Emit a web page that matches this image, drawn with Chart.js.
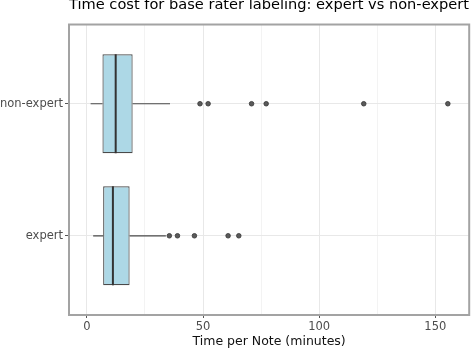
<!DOCTYPE html>
<html>
<head>
<meta charset="utf-8">
<script src="https://cdn.jsdelivr.net/npm/chart.js@4"></script>
<style>
  html, body { margin: 0; padding: 0; background: #fff; }
</style>
</head>
<body>
<canvas id="boxChart" width="474" height="351"></canvas>
<script>
// === data ===
const groupNames = ['expert', 'non-expert'];
const groupPos = [1, 2];
const q1 = [7.0, 6.7];
const median = [11.2, 12.4];
const q3 = [18.4, 19.7];
const whiskerLow = [2.7, 1.6];
const whiskerHigh = [34.0, 35.8];
const outliersExpert = [35.5, 39.0, 46.3, 60.8, 65.4];
const outliersNonExpert = [48.7, 52.2, 70.9, 77.2, 119.2, 155.4];
const xTickValues = [0, 25, 50, 75, 100, 125, 150];

const FONT = 'DejaVu Sans';

// whiskers under the boxes, median + panel border on top
const boxExtras = {
    id: 'boxExtras',
    beforeDatasetsDraw(chart) {
        const ctx = chart.ctx;
        const x = chart.scales.x, y = chart.scales.y;
        ctx.save();
        ctx.strokeStyle = '#4a4a4a';
        ctx.lineWidth = 1.2;
        groupPos.forEach((pos, i) => {
            const py = y.getPixelForValue(pos);
            ctx.beginPath();
            ctx.moveTo(x.getPixelForValue(whiskerLow[i]), py);
            ctx.lineTo(x.getPixelForValue(q1[i]), py);
            ctx.moveTo(x.getPixelForValue(q3[i]), py);
            ctx.lineTo(x.getPixelForValue(whiskerHigh[i]), py);
            ctx.stroke();
        });
        ctx.restore();
    },
    afterDatasetsDraw(chart) {
        const ctx = chart.ctx;
        const x = chart.scales.x;
        const meta = chart.getDatasetMeta(0);
        ctx.save();
        ctx.strokeStyle = '#333333';
        ctx.lineWidth = 2;
        meta.data.forEach((bar, i) => {
            const px = x.getPixelForValue(median[i]);
            ctx.beginPath();
            ctx.moveTo(px, bar.y - bar.height / 2);
            ctx.lineTo(px, bar.y + bar.height / 2);
            ctx.stroke();
        });
        const a = chart.chartArea;
        ctx.strokeStyle = '#a3a3a3';
        ctx.lineWidth = 2;
        ctx.strokeRect(a.left, a.top, a.right - a.left, a.bottom - a.top);
        ctx.restore();
    }
};

const outlierPoints = []
    .concat(outliersExpert.map(v => ({ x: v, y: groupPos[0] })))
    .concat(outliersNonExpert.map(v => ({ x: v, y: groupPos[1] })));

new Chart(document.getElementById('boxChart'), {
    type: 'bar',
    data: {
        datasets: [{
            type: 'bar',
            data: groupPos.map((pos, i) => ({ y: pos, x: [q1[i], q3[i]] })),
            backgroundColor: '#add8e6',
            borderColor: '#4a4a4a',
            borderWidth: 1.2,
            borderSkipped: false,
            categoryPercentage: 1,
            barPercentage: 0.75,
            order: 2
        }, {
            type: 'scatter',
            data: outlierPoints,
            pointRadius: 2.3,
            pointBackgroundColor: '#5a5a5a',
            pointBorderColor: '#333333',
            pointBorderWidth: 0.8,
            order: 1
        }]
    },
    options: {
        indexAxis: 'y',
        responsive: false,
        animation: false,
        events: [],
        layout: { padding: { left: 0, right: 2, top: 0, bottom: 0 } },
        plugins: {
            legend: { display: false },
            tooltip: { enabled: false },
            title: {
                display: true,
                text: 'Time cost for base rater labeling: expert vs non-expert',
                align: 'start',
                fullSize: false,
                color: '#000000',
                font: { family: FONT, size: 14.6, weight: 'normal', lineHeight: 0.7 },
                padding: { top: 0, bottom: 14.3 }
            }
        },
        scales: {
            x: {
                type: 'linear',
                offset: false,
                beginAtZero: false,
                min: -7.7,
                max: 164.6,
                afterBuildTicks: scale => {
                    scale.ticks = xTickValues.map(v => ({ value: v }));
                },
                afterFit: scale => { scale.height = 36; },
                ticks: {
                    color: '#4d4d4d',
                    font: { family: FONT, size: 11.5 },
                    padding: 2,
                    maxRotation: 0,
                    callback: value => (value % 50 === 0 ? value : '')
                },
                grid: {
                    offset: false,
                    color: ctx => (ctx.tick && ctx.tick.value % 50 === 0 ? '#e8e8e8' : '#f3f3f3'),
                    tickColor: ctx => (ctx.tick && ctx.tick.value % 50 === 0 ? '#555555' : 'rgba(0,0,0,0)'),
                    tickLength: 3
                },
                border: { display: false },
                title: {
                    display: true,
                    text: 'Time per Note (minutes)',
                    color: '#111111',
                    font: { family: FONT, size: 12.5 },
                    padding: { top: 0.4, bottom: 1.8 }
                }
            },
            y: {
                type: 'linear',
                offset: false,
                beginAtZero: false,
                min: 0.4,
                max: 2.6,
                afterBuildTicks: scale => {
                    scale.ticks = groupPos.map(v => ({ value: v }));
                },
                afterFit: scale => { scale.width = 69; },
                ticks: {
                    color: '#4d4d4d',
                    font: { family: FONT, size: 11.5 },
                    padding: 2,
                    callback: value => groupNames[groupPos.indexOf(value)]
                },
                grid: {
                    offset: false,
                    color: '#e8e8e8',
                    tickColor: '#555555',
                    tickLength: 4
                },
                border: { display: false }
            }
        }
    },
    plugins: [boxExtras]
});
</script>
</body>
</html>
